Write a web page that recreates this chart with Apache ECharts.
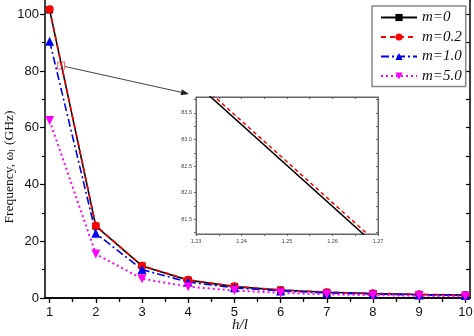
<!DOCTYPE html>
<html><head><meta charset="utf-8">
<script src="https://cdn.jsdelivr.net/npm/echarts@6/dist/echarts.min.js"></script>
<style>html,body{margin:0;padding:0;background:#fff}#c{width:474px;height:336px}</style>
</head><body><div id="c"></div>
<script>
// ---- data ----
const hl = [1, 2, 3, 4, 5, 6, 7, 8, 9, 10];
const m0  = [101.5, 25.3, 11.3, 6.3, 4.0, 2.8, 2.0, 1.6, 1.25, 1.0];
const m02 = [101.7, 25.5, 11.4, 6.4, 4.1, 2.85, 2.05, 1.65, 1.3, 1.05];
const m10 = [90.5, 22.8, 10.0, 5.6, 3.6, 2.5, 1.8, 1.4, 1.1, 0.9];
const m50 = [62.5, 15.5, 6.8, 4.0, 2.6, 1.8, 1.3, 1.0, 0.8, 0.6];
const names = ['m=0', 'm=0.2', 'm=1.0', 'm=5.0'];
const xTicks = [1, 2, 3, 4, 5, 6, 7, 8, 9, 10];
const xMinor = [1.5, 2.5, 3.5, 4.5, 5.5, 6.5, 7.5, 8.5, 9.5];
const yTicks = [0, 20, 40, 60, 80, 100];
const yMinor = [10, 30, 50, 70, 90];
const zoomPoint = [1.25, 81.9];
// inset
const insetX = [1.23, 1.27];
const insetM0 = [84.05, 80.97];
const insetM02 = [84.12, 81.04];
const insetXTicks = [1.23, 1.24, 1.25, 1.26, 1.27];
const insetXMinor = [1.235, 1.245, 1.255, 1.265];
const insetYTicks = [81.5, 82.0, 82.5, 83.0, 83.5];
const insetYMinor = [81.25, 81.75, 82.25, 82.75, 83.25, 83.75];

const pair = (xs, ys) => xs.map((x, i) => [x, ys[i]]);
const lab = {fontFamily: 'Liberation Sans', fontSize: 13, color: '#111'};
const inLab = {fontFamily: 'Liberation Sans', fontSize: 5.5, color: '#444'};

const chart = echarts.init(document.getElementById('c'), null, {renderer: 'canvas'});
const base = (o) => Object.assign({type: 'value', splitLine: {show: false}}, o);

chart.setOption({
  animation: false,
  backgroundColor: '#fff',
  grid: [
    {left: 45, right: 4, top: 0, bottom: 38, containLabel: false, outerBoundsMode: 'none'},
    {left: 196, top: 97, width: 182, height: 137, show: true, backgroundColor: '#fff', borderColor: '#666', borderWidth: 1, z: 5,
      containLabel: false, outerBoundsMode: 'none'}
  ],
  xAxis: [
    base({gridIndex: 0, min: 0.9, max: 10.1, position: 'bottom',
      axisLine: {lineStyle: {color: '#000', width: 1.5}},
      axisTick: {customValues: xTicks, length: 5, lineStyle: {color: '#000', width: 1.2}},
      axisLabel: {customValues: xTicks, ...lab, margin: 8}}),
    base({gridIndex: 0, min: 0.9, max: 10.1, position: 'bottom', offset: 0,
      axisLine: {show: false},
      axisTick: {customValues: xMinor, length: 3, lineStyle: {color: '#000', width: 1.2}},
      axisLabel: {show: false}}),
    base({gridIndex: 0, min: 0.9, max: 10.1, position: 'top',
      axisLine: {lineStyle: {color: '#000', width: 1.5}},
      axisTick: {inside: true, customValues: xTicks.concat(xMinor), length: 4, lineStyle: {color: '#000', width: 1.2}},
      axisLabel: {show: false}}),
    base({gridIndex: 1, min: 1.23, max: 1.27, position: 'bottom', z: 6,
      axisLine: {lineStyle: {color: '#666', width: 1}},
      axisTick: {customValues: insetXTicks.concat(insetXMinor), length: 2, lineStyle: {color: '#666'}},
      axisLabel: {customValues: insetXTicks, ...inLab, margin: 4, formatter: v => v.toFixed(2)}}),
    base({gridIndex: 1, min: 1.23, max: 1.27, position: 'top', z: 6,
      axisLine: {lineStyle: {color: '#666', width: 1}},
      axisTick: {inside: true, customValues: insetXTicks.concat(insetXMinor), length: 2, lineStyle: {color: '#666'}},
      axisLabel: {show: false}})
  ],
  yAxis: [
    base({gridIndex: 0, min: 0, max: 105, position: 'left',
      axisLine: {show: true, lineStyle: {color: '#000', width: 1.5}},
      axisTick: {show: true, customValues: yTicks, length: 5, lineStyle: {color: '#000', width: 1.2}},
      axisLabel: {customValues: yTicks, ...lab, margin: 6}}),
    base({gridIndex: 0, min: 0, max: 105, position: 'left', offset: 0,
      axisLine: {show: false},
      axisTick: {show: true, customValues: yMinor, length: 3, lineStyle: {color: '#000', width: 1.2}},
      axisLabel: {show: false}}),
    base({gridIndex: 0, min: 0, max: 105, position: 'right', offset: 0,
      axisLine: {show: true, lineStyle: {color: '#000', width: 1.5}},
      axisTick: {show: true, inside: true, customValues: yTicks.concat(yMinor), length: 4, lineStyle: {color: '#000', width: 1.2}},
      axisLabel: {show: false}}),
    base({gridIndex: 1, min: 81.22, max: 83.8, position: 'left', z: 6,
      axisLine: {show: true, lineStyle: {color: '#666', width: 1}},
      axisTick: {show: true, customValues: insetYTicks.concat(insetYMinor), length: 2, lineStyle: {color: '#666'}},
      axisLabel: {customValues: insetYTicks, ...inLab, margin: 4, formatter: v => v.toFixed(1)}}),
    base({gridIndex: 1, min: 81.22, max: 83.8, position: 'right', offset: 0, z: 6,
      axisLine: {show: true, lineStyle: {color: '#666', width: 1}},
      axisTick: {show: true, inside: true, customValues: insetYTicks.concat(insetYMinor), length: 2, lineStyle: {color: '#666'}},
      axisLabel: {show: false}})
  ],
  legend: {
    left: 372, top: 6, width: 92, orient: 'vertical',
    backgroundColor: '#fff', borderColor: '#888', borderWidth: 1.5, borderRadius: 0,
    padding: [4, 4, 3, 8], itemGap: 4.5, itemWidth: 36, itemHeight: 9,
    data: names,
    textStyle: {fontFamily: 'Liberation Serif', fontStyle: 'italic', fontSize: 15, color: '#111', padding: [0, 0, 0, 0]}
  },
  series: [
    {name: names[0], type: 'line', xAxisIndex: 0, yAxisIndex: 0, data: pair(hl, m0),
      symbol: 'rect', symbolSize: 7, color: '#000', lineStyle: {color: '#000', width: 1.6, type: 'solid'}, z: 3},
    {name: names[1], type: 'line', xAxisIndex: 0, yAxisIndex: 0, data: pair(hl, m02),
      symbol: 'circle', symbolSize: 8, color: '#f00', lineStyle: {color: '#f00', width: 1.6, type: [5, 4]}, z: 3},
    {name: names[2], type: 'line', xAxisIndex: 0, yAxisIndex: 0, data: pair(hl, m10),
      symbol: 'triangle', symbolSize: 9, color: '#0000ee', lineStyle: {color: '#0000ee', width: 1.6, type: [8, 3, 2, 3]}, z: 3},
    {name: names[3], type: 'line', xAxisIndex: 0, yAxisIndex: 0, data: pair(hl, m50),
      symbol: 'triangle', symbolRotate: 180, symbolSize: 9, color: '#ff00ff', lineStyle: {color: '#ff00ff', width: 2, type: [2, 3]}, z: 3},
    {type: 'scatter', xAxisIndex: 0, yAxisIndex: 0, data: [zoomPoint], symbol: 'rect', symbolSize: 7,
      itemStyle: {color: 'rgba(0,0,0,0)', borderColor: '#e33', borderWidth: 1}, z: 4, silent: true},
    {type: 'line', xAxisIndex: 3, yAxisIndex: 3, data: pair(insetX, insetM0), symbol: 'none',
      lineStyle: {color: '#000', width: 1.5}, z: 7},
    {type: 'line', xAxisIndex: 3, yAxisIndex: 3, data: pair(insetX, insetM02), symbol: 'none',
      lineStyle: {color: '#f00', width: 1.5, type: [4, 3]}, z: 7}
  ]
});

// arrow from zoomed point to inset
const p0 = chart.convertToPixel({xAxisIndex: 0, yAxisIndex: 0}, zoomPoint);
const p1 = chart.convertToPixel({xAxisIndex: 3, yAxisIndex: 3}, [insetX[0], 83.8]);
const sx = p0[0] + 4, sy = p0[1] + 1, ex = p1[0] - 7, ey = p1[1] - 3;
const ang = Math.atan2(ey - sy, ex - sx), L = 8, W = 3;
const bx = ex - L * Math.cos(ang), by = ey - L * Math.sin(ang);
chart.setOption({graphic: [
  {type: 'line', shape: {x1: sx, y1: sy, x2: bx, y2: by}, style: {stroke: '#444', lineWidth: 1}, z: 10},
  {type: 'polygon', shape: {points: [[ex, ey], [bx - W * Math.sin(ang), by + W * Math.cos(ang)], [bx + W * Math.sin(ang), by - W * Math.cos(ang)]]},
    style: {fill: '#222'}, z: 10},
  {type: 'text', left: 232, top: 318, style: {text: 'h/l', font: 'italic 15px "Liberation Serif"', fill: '#111'}, z: 10},
  {type: 'text', x: 9, y: 167, rotation: Math.PI / 2, z: 10,
    style: {text: '{a|Frequency, ω}{s|l}{a| (GHz)}', align: 'center', verticalAlign: 'middle',
      rich: {
        a: {fontFamily: 'Liberation Serif', fontSize: 13.5, fill: '#111'},
        s: {fontFamily: 'Liberation Serif', fontSize: 8, fill: '#111', padding: [7, 1, 0, 0]}
      }}}
]});
</script></body></html>
